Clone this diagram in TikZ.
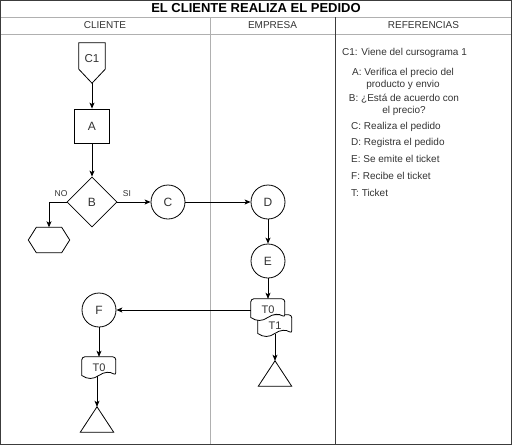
\documentclass[tikz,border=0pt]{standalone}
\usepackage{fontspec}
\setmainfont{Liberation Sans}
\usetikzlibrary{arrows.meta,calc,shapes.geometric}

\definecolor{framegray}{HTML}{3C3C3C}
\definecolor{rulegray}{HTML}{B0B0B0}
\definecolor{txtgray}{HTML}{333333}

\tikzset{
  flow/.style={draw=black, line width=0.8pt, text=txtgray, font=\fontsize{12}{14}\selectfont, inner sep=0pt},
  circ/.style={flow, circle, minimum size=34pt},
  proc/.style={flow, rectangle, minimum width=35pt, minimum height=34pt},
  dec/.style={flow, diamond, aspect=1, minimum width=50pt, minimum height=50pt},
  hold/.style={inner sep=0pt, draw=none},
  outline/.style={draw=black, line width=0.8pt, fill=white},
  txt/.style={text=txtgray, font=\fontsize{10}{12}\selectfont, inner sep=0pt},
  doctxt/.style={text=txtgray, font=\fontsize{11}{13}\selectfont, inner sep=0pt},
  small/.style={text=txtgray, font=\fontsize{8.5}{10}\selectfont, inner sep=0pt},
  refline/.style={txt, anchor=west},
  link/.style={line width=0.8pt, -{Stealth[length=6pt,width=5pt,inset=1.5pt]}}
}

% document symbol: name, position, text
\newcommand{\docnode}[3]{%
  \node[hold, minimum width=34pt, minimum height=22pt] (#1) at (#2) {};
  \draw[outline, shift={(#1.north west)}] (0,18.7) [rounded corners=3pt] -- (0,0) -- (34,0) -- (34,18.7) [sharp corners]
    .. controls (28.33,14.74) and (22.67,14.74) .. (17,18.7)
    .. controls (11.33,22.66) and (5.67,22.66) .. (0,18.7) -- cycle;
  \node[doctxt] (#1-txt) at (#1) {#3};
}

\begin{document}
\begin{tikzpicture}[x=1pt, y=-1pt]
\useasboundingbox (0,0) rectangle (512,445);

% frame
\draw[rulegray, line width=0.8pt] (0,17) -- (512,17);
\draw[rulegray, line width=0.8pt] (0,34) -- (512,34);
\draw[rulegray, line width=0.8pt] (210,17) -- (210,445);
\draw[framegray, line width=0.8pt] (335,17) -- (335,445);
\draw[framegray, line width=1.2pt] (0.6,0.6) rectangle (511.4,444.4);

\node[font=\bfseries\fontsize{13}{15}\selectfont] (title) at (256,8.5) {EL CLIENTE REALIZA EL PEDIDO};
\node[txt] (hcli) at (105,25.5) {CLIENTE};
\node[txt] (hemp) at (272.5,25.5) {EMPRESA};
\node[txt] (href) at (423.5,25.5) {REFERENCIAS};

% cliente
\node[hold, minimum width=26pt, minimum height=40pt] (c1) at (92,63) {};
\draw[outline] (c1.north west) -- (c1.north east) -- ($(c1.south east)+(0,-14)$) -- (c1.south) -- ($(c1.south west)+(0,-14)$) -- cycle;
\node[txt, font=\fontsize{11.5}{13}\selectfont] (c1-txt) at ($(c1)+(0,-4)$) {C1};
\node[proc] (a) at (92,126) {A};
\node[dec] (b) at (92,202) {B};
\node[hold, minimum width=41pt, minimum height=25pt] (hex) at (49,240) {};
\draw[outline] (hex.west) -- ($(hex.north west)+(8,0)$) -- ($(hex.north east)+(-8,0)$) -- (hex.east)
  -- ($(hex.south east)+(-8,0)$) -- ($(hex.south west)+(8,0)$) -- cycle;
\node[small] (no) at (61,194) {NO};
\node[small] (si) at (127,194) {SI};
\node[circ] (c) at (168,202) {C};
\node[circ] (f) at (99,310) {F};
\docnode{cdoc}{99,368}{T0}
\node[hold, minimum width=33pt, minimum height=25pt] (tri2) at (97,419.5) {};
\draw[outline] (tri2.north) -- (tri2.south east) -- (tri2.south west) -- cycle;

% empresa
\node[circ] (d) at (268,202) {D};
\node[circ] (e) at (268,261) {E};
\docnode{t1}{275,326}{T1}
\docnode{t0}{268,310}{T0}
\node[hold, minimum width=33pt, minimum height=25pt] (tri1) at (275,373.5) {};
\draw[outline] (tri1.north) -- (tri1.south east) -- (tri1.south west) -- cycle;

% conectores
\draw[link] (c1.south) -- (a.north);
\draw[link] (a.south) -- (b.north);
\draw[link] (b.west) -| (hex.north);
\draw[link] (b.east) -- (c.west);
\draw[link] (c.east) -- (d.west);
\draw[link] (d.south) -- (e.north);
\draw[link] (e.south) -- (t0.north);
\draw[link] (t0.west) -- (f.east);
\draw[link] ($(t1.south)+(0,-3.3)$) -- (tri1.north);
\draw[link] (f.south) -- (cdoc.north);
\draw[link] ($(tri2.north |- cdoc.south)+(0,-3)$) -- (tri2.north);

% referencias
\node[refline] (r1) at (342,53) {C1: Viene del cursograma 1};
\node[txt, align=center] (ra) at (403,79) {A: Verifica el precio del\\producto y envio};
\node[txt, align=center] (rb) at (404,105) {B: ¿Está de acuerdo con\\el precio?};
\node[refline] (rc) at (351,127) {C: Realiza el pedido};
\node[refline] (rd) at (351,143) {D: Registra el pedido};
\node[refline] (re) at (351,159) {E: Se emite el ticket};
\node[refline] (rf) at (351,176) {F: Recibe el ticket};
\node[refline] (rt) at (351,193) {T: Ticket};
\end{tikzpicture}
\end{document}
